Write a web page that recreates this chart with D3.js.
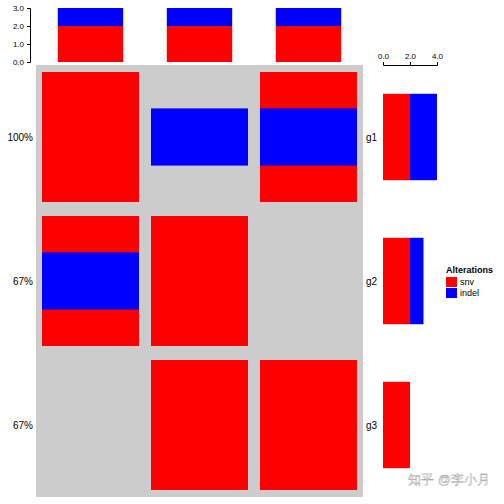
<!DOCTYPE html><html><head><meta charset="utf-8"><script src="https://cdn.jsdelivr.net/npm/d3@7"></script>
<style>body{margin:0;background:#fff}text{font-family:"Liberation Sans",Arial,sans-serif}</style></head><body><script>
const genes=["g1","g2","g3"];
const samples=["s1","s2","s3"];
const pctLabels=["100%","67%","67%"];
// alterations per [gene][sample]
const snv=[[1,0,1],[1,1,0],[0,1,1]];
const indel=[[0,1,1],[1,0,0],[0,0,0]];
const topTicks=[0,1,2,3];
const rightTicks=[0,2,4];
const colors={snv:"#FF0000",indel:"#0000FF"};
const svg=d3.select("body").append("svg").attr("width",504).attr("height",504);
const x=d3.scaleBand().domain(samples).range([36,363]);
const y=d3.scaleBand().domain(genes).range([65,497]);
svg.append("rect").attr("x",36).attr("y",65).attr("width",327).attr("height",432).attr("fill","#CCCCCC");
const pad=6;
genes.forEach((g,i)=>samples.forEach((s,j)=>{
  const cx=x(s)+pad,cy=y(g)+7,w=x.bandwidth()-2*pad,h=y.bandwidth()-14;
  if(snv[i][j])svg.append("rect").attr("x",cx).attr("y",cy).attr("width",w).attr("height",h).attr("fill",colors.snv);
  if(indel[i][j])svg.append("rect").attr("x",cx).attr("y",cy+h*0.28).attr("width",w).attr("height",h*0.44).attr("fill",colors.indel);
}));
// left pct labels, right gene labels
genes.forEach((g,i)=>{
  svg.append("text").attr("x",33).attr("y",y(g)+y.bandwidth()/2+4).attr("text-anchor","end").attr("font-size",10).text(pctLabels[i]);
  svg.append("text").attr("x",366).attr("y",y(g)+y.bandwidth()/2+4).attr("font-size",10).text(g);
});
// top barplot
const yt=d3.scaleLinear().domain([0,3]).range([62,8]);
const ax=svg.append("g").attr("transform","translate(30,0)").call(d3.axisLeft(yt).tickValues(topTicks).tickSize(3));
ax.selectAll("text").attr("font-size",8);
samples.forEach((s,j)=>{
  const ns=d3.sum(genes,(g,i)=>snv[i][j]),ni=d3.sum(genes,(g,i)=>indel[i][j]);
  const bx=x(s)+x.bandwidth()*0.2,bw=x.bandwidth()*0.6;
  svg.append("rect").attr("x",bx).attr("y",yt(ns)).attr("width",bw).attr("height",yt(0)-yt(ns)).attr("fill",colors.snv);
  svg.append("rect").attr("x",bx).attr("y",yt(ns+ni)).attr("width",bw).attr("height",yt(ns)-yt(ns+ni)).attr("fill",colors.indel);
});
// right barplot
const xr=d3.scaleLinear().domain([0,4]).range([383,437]);
const ar=svg.append("g").attr("transform","translate(0,65)").call(d3.axisTop(xr).tickValues(rightTicks).tickSize(3));
ar.selectAll("text").attr("font-size",8);
genes.forEach((g,i)=>{
  const ns=d3.sum(snv[i]),ni=d3.sum(indel[i]);
  const by=y(g)+y.bandwidth()*0.2,bh=y.bandwidth()*0.6;
  svg.append("rect").attr("x",xr(0)).attr("y",by).attr("width",xr(ns)-xr(0)).attr("height",bh).attr("fill",colors.snv);
  if(ni)svg.append("rect").attr("x",xr(ns)).attr("y",by).attr("width",xr(ns+ni)-xr(ns)).attr("height",bh).attr("fill",colors.indel);
});
// legend
svg.append("text").attr("x",446).attr("y",273).attr("font-size",9).attr("font-weight","bold").text("Alterations");
[["snv",colors.snv],["indel",colors.indel]].forEach(([n,c],k)=>{
  svg.append("rect").attr("x",446).attr("y",277+k*11).attr("width",11).attr("height",10).attr("fill",c);
  svg.append("text").attr("x",460).attr("y",285+k*11).attr("font-size",9).text(n);
});
svg.append("text").attr("x",490).attr("y",484).attr("text-anchor","end").attr("font-size",13).attr("fill","#fff").attr("stroke","#999").attr("stroke-width",0.4).attr("font-family","Noto Sans CJK SC").text("知乎 @李小月");
</script></body></html>
